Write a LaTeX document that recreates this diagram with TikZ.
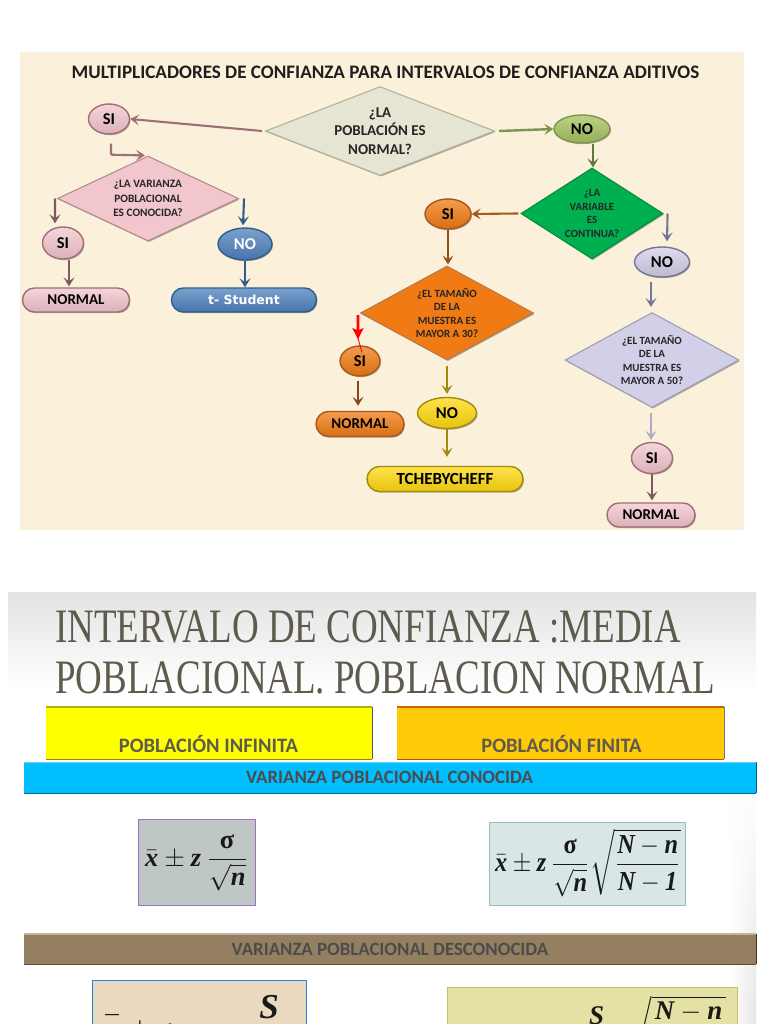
\documentclass[tikz,border=0pt]{standalone}
\usepackage{fontspec}
\usepackage{amsmath}
\setmainfont{Carlito}
\newfontfamily\headfont[FakeStretch=0.77]{Liberation Serif}
\newfontfamily\timesf{Liberation Serif}
\newfontfamily\studfont{DejaVu Sans}
\usetikzlibrary{shapes.geometric,shapes.misc,arrows.meta,shadows,calc,fadings}
\newcommand{\fvar}[1]{\mbox{\timesf\itshape\bfseries #1}}
\newcommand{\fup}[1]{\mbox{\timesf\bfseries #1}}
\definecolor{paper}{HTML}{FBF0DA}
\definecolor{pinkf}{HTML}{F2C6CD}
\definecolor{pinkd}{HTML}{9E6F75}
\definecolor{bluef}{HTML}{4F81BD}
\definecolor{blued}{HTML}{2F5D8C}
\definecolor{orangef}{HTML}{F07A14}
\definecolor{oranged}{HTML}{A9571A}
\definecolor{yellowf}{HTML}{FFD90F}
\definecolor{yellowd}{HTML}{A08A10}
\definecolor{lavf}{HTML}{D2CFE8}
\definecolor{lavd}{HTML}{77759A}
\definecolor{greenf}{HTML}{A6C261}
\definecolor{greend}{HTML}{7D9550}
\definecolor{creamf}{HTML}{E6E4D2}
\definecolor{creamd}{HTML}{B3B29A}
\definecolor{emerald}{HTML}{00B050}
\definecolor{textgrey}{HTML}{5E5A4C}
\definecolor{purey}{HTML}{FFFF00}
\definecolor{finitef}{HTML}{FFCA08}
\definecolor{skyf}{HTML}{00BEFF}
\definecolor{f1fill}{HTML}{BFC7C4}
\definecolor{f1line}{HTML}{A070C8}
\definecolor{f2fill}{HTML}{D8E6E6}
\definecolor{f2line}{HTML}{8FBFBF}
\definecolor{brownf}{HTML}{948060}
\definecolor{brownl}{HTML}{C2B49A}
\definecolor{brownd}{HTML}{5E4E36}
\definecolor{brownk}{HTML}{3E3424}
\definecolor{f3fill}{HTML}{EAD9BF}
\definecolor{f3line}{HTML}{1E88D8}
\definecolor{f4fill}{HTML}{E3E1A4}
\definecolor{f4line}{HTML}{C8C060}
\tikzset{
  x=1pt,y=-1pt,
  soft/.style={drop shadow={shadow xshift=1pt,shadow yshift=-1.2pt,fill=black,opacity=.3}},
  dia/.style={diamond,inner sep=0pt,font=\bfseries\fontsize{11}{13.6}\selectfont,align=center,text=black!85,line width=1.1pt,soft},
  oval/.style={ellipse,inner sep=0pt,line width=1.4pt,font=\bfseries\fontsize{16.5}{16}\selectfont,soft},
  pill/.style={rounded rectangle,inner sep=0pt,line width=1.4pt,font=\bfseries\fontsize{15}{15}\selectfont,soft},
  bevelled/.style={top color=#1!75!white,middle color=#1,bottom color=#1!90!black},
  conn/.style={line width=2.1pt,-{Stealth[length=9pt,width=11pt,inset=4pt]}},
  tophead/.style={font=\headfont\fontsize{48}{48}\selectfont,text=textgrey,inner sep=0pt,anchor=base west},
  bar/.style={inner sep=0pt,anchor=north west},
  bartext/.style={font=\bfseries\fontsize{18.8}{19}\selectfont,text=black!70,inner sep=0pt},
  boxtext/.style={font=\bfseries\fontsize{20.5}{20}\selectfont,text=textgrey,inner sep=0pt},
  fbox/.style={inner sep=0pt,anchor=north west,line width=1.2pt},
  formula/.style={inner sep=0pt,text=black!90},
}
\begin{document}
\begin{tikzpicture}
\useasboundingbox (0,0) rectangle (768,1024);
\fill[white] (0,0) rectangle (768,1024);
\begin{scope}
\clip (0,0) rectangle (768,1024);
% ---------- upper panel
\node[fill=paper,inner sep=0pt,minimum width=724pt,minimum height=478pt,anchor=north west] (panel) at (20,52) {};
\node[font=\bfseries\fontsize{19.1}{19}\selectfont,text=black!88,inner sep=0pt] (title) at (385.5,72) {MULTIPLICADORES DE CONFIANZA PARA INTERVALOS DE CONFIANZA ADITIVOS};

\node[dia,fill=creamf,draw=creamd,minimum width=229pt,minimum height=89pt,aspect=2.57,font=\bfseries\fontsize{15}{18.5}\selectfont] (d1) at (380,131) {¿LA\\POBLACIÓN ES\\NORMAL?};
\node[oval,bevelled=pinkf,draw=pinkd,minimum width=41pt,minimum height=30pt] (si1) at (109,119) {SI};
\node[dia,fill=pinkf,draw=pinkd!80,minimum width=181pt,minimum height=85pt,aspect=2.13,font=\bfseries\fontsize{11.3}{14.4}\selectfont] (d2) at (148,198.5) {¿LA VARIANZA\\POBLACIONAL\\ES CONOCIDA?};
\node[oval,bevelled=pinkf,draw=pinkd,minimum width=41pt,minimum height=32pt] (si2) at (63,243) {SI};
\node[pill,bevelled=pinkf,draw=pinkd,minimum width=107pt,minimum height=24pt] (n1) at (76,300) {NORMAL};
\node[oval,bevelled=bluef,draw=blued,minimum width=54pt,minimum height=32pt,text=white] (no2) at (245,244) {NO};
\node[pill,bevelled=bluef,draw=blued,minimum width=145pt,minimum height=24pt,text=white,font=\studfont\bfseries\fontsize{12.5}{15}\selectfont] (st) at (244,300) {t- Student};

\node[oval,bevelled=greenf,draw=greend,minimum width=56pt,minimum height=28pt] (no1) at (582,129) {NO};
\node[dia,fill=emerald,draw=emerald!80!black,minimum width=142pt,minimum height=91pt,aspect=1.56] (d3) at (592,213.5) {¿LA\\VARIABLE\\ES\\CONTINUA?};
\node[oval,bevelled=orangef,draw=oranged,minimum width=46pt,minimum height=30pt] (si3) at (448,214) {SI};
\node[dia,fill=orangef,draw=oranged!80,minimum width=173pt,minimum height=94pt,aspect=1.84] (d4) at (447,313) {¿EL TAMAÑO\\DE LA\\MUESTRA ES\\MAYOR A 30?};
\node[oval,bevelled=orangef,draw=oranged,minimum width=40pt,minimum height=30pt] (si4) at (360,361) {SI};
\node[pill,bevelled=orangef,draw=oranged,minimum width=88pt,minimum height=25pt] (n2) at (360,424) {NORMAL};
\node[oval,bevelled=yellowf,draw=yellowd,minimum width=59pt,minimum height=31pt] (no3) at (447,413) {NO};
\node[pill,bevelled=yellowf,draw=yellowd,minimum width=156pt,minimum height=25pt,font=\bfseries\fontsize{17}{15}\selectfont] (tc) at (445,479) {TCHEBYCHEFF};
\node[oval,bevelled=lavf,draw=lavd,minimum width=55pt,minimum height=30pt] (no4) at (662,262) {NO};
\node[dia,fill=lavf,draw=lavd!70,minimum width=174pt,minimum height=95pt,aspect=1.83] (d5) at (652,360) {¿EL TAMAÑO\\DE LA\\MUESTRA ES\\MAYOR A 50?};
\node[oval,bevelled=pinkf,draw=pinkd,minimum width=41pt,minimum height=31pt] (si5) at (652,458) {SI};
\node[pill,bevelled=pinkf,draw=pinkd,minimum width=88pt,minimum height=24pt] (n3) at (651,515) {NORMAL};

% connectors
\draw[conn,draw=pinkd] ([shift={(-3,0)}]d1.west) -- (si1.east);
\draw[conn,draw=pinkd,rounded corners=1pt] ([shift={(2,9)}]si1.south) -- ([shift={(2,20)}]si1.south) -- ([shift={(-3,0)}]d2.north);
\draw[conn,draw=pinkd!80!black] ([shift={(-2,0)}]d2.west) -- ([shift={(-8,-3)}]si2.north);
\draw[conn,draw=pinkd!80!black] ([shift={(6,0)}]si2.south) -- ([shift={(-7,-1)}]n1.north);
\draw[conn,draw=blued] ([shift={(5,0)}]d2.east) -- ([shift={(-2,-2)}]no2.north);
\draw[conn,draw=blued] (no2.south) -- ([shift={(1,0)}]st.north);
\draw[conn,draw=greend,line width=2.4pt] ([shift={(4,0)}]d1.east) -- (no1.west);
\draw[conn,draw=greend!80!black] ([shift={(11,0)}]no1.south) -- ([shift={(1,0)}]d3.north);
\draw[conn,draw=oranged] ([shift={(-2,0)}]d3.west) -- (si3.east);
\draw[conn,draw=oranged!90!black] (si3.south) -- ([shift={(1,-1)}]d4.north);
\draw[line width=2.8pt,draw=red,-{Stealth[length=11pt,width=11pt,inset=2pt]}] ([shift={(-2,2)}]d4.west) -- ([shift={(-2,-6)}]si4.north);
\draw[line width=.9pt,draw=red] ([shift={(-2,-7)}]si4.north) -- ([shift={(2,7)}]si4.north);
\draw[conn,draw=oranged!80!black] ([shift={(-2,4)}]si4.south) -- ([shift={(-2,-5)}]n2.north);
\draw[conn,draw=yellowd] ([shift={(0,5)}]d4.south) -- ([shift={(0,-3)}]no3.north);
\draw[conn,draw=yellowd] (no3.south) -- ([shift={(2,-9)}]tc.north);
\draw[conn,draw=lavd] ([shift={(4,0)}]d3.east) -- ([shift={(5,-5)}]no4.north);
\draw[conn,draw=lavd] ([shift={(-11,4)}]no4.south) -- ([shift={(-1,-5)}]d5.north);
\draw[conn,draw=lavd!60,line width=2.8pt] ([shift={(-1,5)}]d5.south) -- ([shift={(-1,-2)}]si5.north);
\draw[conn,draw=pinkd!80!black] (si5.south) -- ([shift={(1,-2)}]n3.north);

% ---------- lower slide
\shade[top color=black!11,bottom color=white] (8,592) rectangle (756,690);
\shade[left color=white,right color=black!10,path fading=north] (730,780) rectangle (756,1024);
\node[tophead] (h1) at (55,642) {INTERVALO DE CONFIANZA :MEDIA};
\node[tophead] (h2) at (55,693) {POBLACIONAL. POBLACION NORMAL};

\node[bar,fill=purey,minimum width=326pt,minimum height=52pt] (pi) at (46,707) {};
\node[bar,fill=finitef,minimum width=327pt,minimum height=52pt] (pf) at (397,707) {};
\node[boxtext] (pit) at (208.5,744) {POBLACIÓN INFINITA};
\node[boxtext] (pft) at (561.5,744) {POBLACIÓN FINITA};
\draw[line width=1.4pt,draw=purey!70!black] (pi.north west) -- (pi.north east);
\draw[line width=1.6pt,draw=black!65] (pi.north east) -- (pi.south east);
\draw[line width=1.2pt,draw=purey!55!black] (pi.south west) -- (pi.south east);
\draw[line width=1.4pt,draw=orange!80!black] (pf.north west) -- (pf.north east);
\draw[line width=1.6pt,draw=black!55] (pf.north east) -- (pf.south east);
\draw[line width=1.2pt,draw=orange!70!black] (pf.south west) -- (pf.south east);

\node[bar,fill=skyf,minimum width=732pt,minimum height=31pt] (vc) at (24,762) {};
\node[bartext] (vct) at (389.5,777) {VARIANZA POBLACIONAL CONOCIDA};
\draw[line width=1.4pt,draw=skyf!55!black] (vc.south west) -- (vc.south east);
\draw[line width=1pt,draw=skyf!60!white] (vc.north west) -- (vc.north east);
\draw[line width=1.4pt,draw=skyf!50!black] (vc.north east) -- (vc.south east);

\node[fbox,fill=f1fill,draw=f1line,minimum width=117pt,minimum height=86pt] (f1) at (138,819) {};
\node[formula,scale=2.65] (f1t) at (197,863) {$\bar{\fvar{x}}\pm\fvar{z}\,\dfrac{\fup{σ}}{\sqrt{\fvar{n}}}$};
\node[fbox,fill=f2fill,draw=f2line,minimum width=196pt,minimum height=83pt] (f2) at (489,822) {};
\node[formula,xscale=2.43,yscale=2.75] (f2t) at (588,863) {$\bar{\fvar{x}}\pm\fvar{z}\,\dfrac{\fup{σ}}{\sqrt{\fvar{n}}}\sqrt{\dfrac{\fvar{N}-\fvar{n}}{\fvar{N}-\fvar{1}}}$};

\node[bar,fill=brownf,minimum width=732pt,minimum height=30pt] (vd) at (24,934) {};
\node[bartext] (vdt) at (390,949) {VARIANZA POBLACIONAL DESCONOCIDA};
\draw[line width=1.4pt,draw=brownl] (vd.north west) -- (vd.north east);
\draw[line width=1.6pt,draw=brownd] (vd.south west) -- (vd.south east);
\draw[line width=1.6pt,draw=brownk] (vd.north east) -- (vd.south east);

\node[fbox,fill=f3fill,draw=f3line,minimum width=214pt,minimum height=80pt] (f3) at (92,980) {};
\node[formula,scale=3.9,anchor=base] (f3x) at (112,1047) {$\bar{\vphantom{N}\fvar{x}}$};
\node[formula,scale=3.3,anchor=base] (f3p) at (140,1042) {$\pm$};
\node[formula,scale=3.3,anchor=base] (f3v) at (168,1042) {$\fvar{t}$};
\node[formula,scale=3.5,anchor=north] (f3s) at (269,995) {$\dfrac{\fvar{S}}{\sqrt{\fvar{n}}}$};
\node[fbox,fill=f4fill,draw=f4line,minimum width=290pt,minimum height=80pt] (f4) at (447,987) {};
\node[formula,scale=2.7,anchor=north] (f4s) at (596.5,1006) {$\dfrac{\fvar{S}}{\sqrt{\fvar{n}}}$};
\node[formula,scale=2.7,anchor=north] (f4r) at (675,995) {$\sqrt{\dfrac{\fvar{N}-\fvar{n}}{\fvar{N}-\fvar{1}}}$};
\end{scope}
\end{tikzpicture}
\end{document}
